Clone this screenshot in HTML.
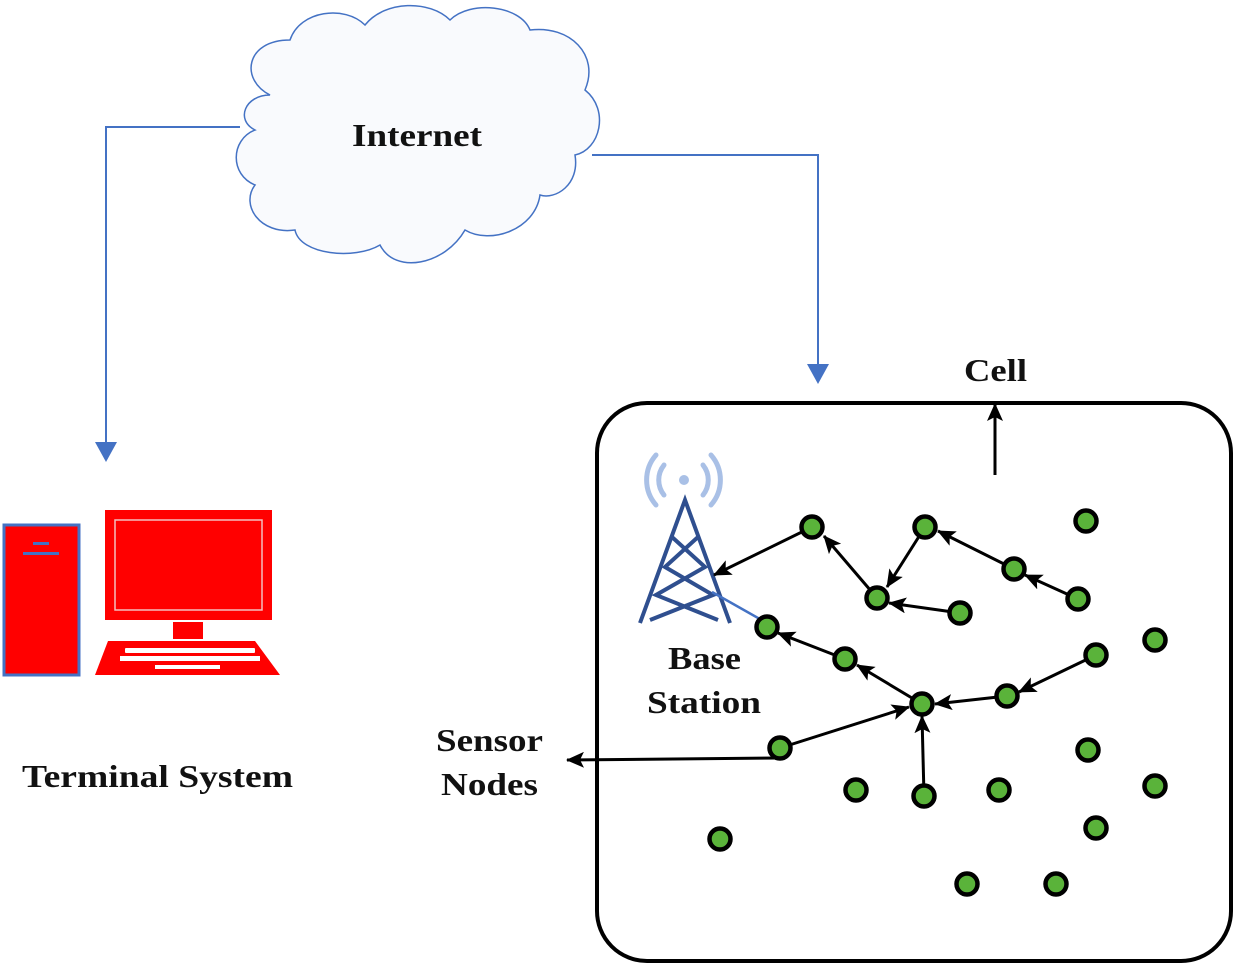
<!DOCTYPE html>
<html><head><style>body{margin:0;background:#fff}svg{display:block}text{font-family:"Liberation Serif",serif;font-weight:bold;fill:#111}</style></head>
<body>
<svg width="1236" height="965" viewBox="0 0 1236 965" xmlns="http://www.w3.org/2000/svg">
<defs>
<marker id="ab" markerWidth="20" markerHeight="22" refX="18" refY="11" orient="auto" markerUnits="userSpaceOnUse" viewBox="0 0 20 22"><path d="M0,0 L20,11 L0,22 z" fill="#4472c4"/></marker>
<marker id="ak" markerWidth="18" markerHeight="16" refX="17" refY="8" orient="auto" markerUnits="userSpaceOnUse" viewBox="0 0 18 16"><path d="M0,0 L18,8 L0,16 L4,8 z" fill="#000"/></marker>
</defs>
<!-- cloud -->
<path d="M270,95 C240,80 245,40 290,40 C300,10 345,5 365,25 C385,0 430,0 450,20 C470,0 520,5 530,30 C570,25 600,55 585,90 C610,110 600,150 575,155 C580,185 555,200 540,195 C535,230 490,245 465,230 C445,265 395,275 380,245 C355,260 300,255 295,230 C260,235 240,205 255,185 C230,175 230,140 255,130 C235,120 245,95 270,95 Z" fill="#f9fafd" stroke="#4472c4" stroke-width="1.5"/>
<text x="352" y="146" font-size="32" textLength="130" lengthAdjust="spacingAndGlyphs">Internet</text>
<path d="M240,127 H106 V460" fill="none" stroke="#4472c4" stroke-width="2" marker-end="url(#ab)"/>
<path d="M592,155 H818 V382" fill="none" stroke="#4472c4" stroke-width="2" marker-end="url(#ab)"/>
<!-- computer -->
<rect x="4" y="525" width="75" height="150" fill="#f00" stroke="#4472c4" stroke-width="3"/>
<rect x="33" y="542" width="16" height="3" fill="#4472c4"/><rect x="23" y="552" width="36" height="3" fill="#4472c4"/>
<rect x="105" y="510" width="167" height="110" fill="#f00"/>
<rect x="115" y="520" width="147" height="90" fill="none" stroke="#f3c0c0" stroke-width="1.5"/>
<rect x="173" y="622" width="30" height="17" fill="#f00"/>
<path d="M108,641 L255,641 L280,675 L95,675 Z" fill="#f00"/>
<g fill="#fff"><rect x="125" y="648" width="130" height="5" rx="1"/><rect x="120" y="656" width="140" height="5"/><rect x="155" y="665" width="65" height="4"/></g>
<text x="22" y="787" font-size="32" textLength="271" lengthAdjust="spacingAndGlyphs">Terminal System</text>
<!-- cell box -->
<rect x="597" y="403" width="634" height="558" rx="50" fill="none" stroke="#000" stroke-width="4"/>
<text x="964" y="381" font-size="32" textLength="63" lengthAdjust="spacingAndGlyphs">Cell</text>
<line x1="995" y1="475" x2="995" y2="404" stroke="#000" stroke-width="3" marker-end="url(#ak)"/>
<!-- tower -->
<g fill="none" stroke="#a9c0e6" stroke-width="5" stroke-linecap="round">
<path d="M664,465 A24,24 0 0 0 664,495"/><path d="M703,465 A24,24 0 0 1 703,495"/>
<path d="M656,455 A38,38 0 0 0 656,505"/><path d="M711,455 A38,38 0 0 1 711,505"/>
</g>
<circle cx="684" cy="480" r="5" fill="#a9c0e6"/>
<g fill="none" stroke="#2f4f8f" stroke-width="4">
<path d="M640,623 L685,500 L730,623"/>
<path d="M672,537 L705,567 L656,595 L718,620 M698,537 L665,567 L713,595 L650,620"/>
</g>
<line x1="712" y1="592" x2="765" y2="622" stroke="#4472c4" stroke-width="2.5"/>
<text x="668" y="669" font-size="32" textLength="73" lengthAdjust="spacingAndGlyphs">Base</text>
<text x="647" y="713" font-size="32" textLength="114" lengthAdjust="spacingAndGlyphs">Station</text>
<text x="436" y="751" font-size="32" textLength="107" lengthAdjust="spacingAndGlyphs">Sensor</text>
<text x="441" y="795" font-size="32" textLength="97" lengthAdjust="spacingAndGlyphs">Nodes</text>
<!-- arrows -->
<g stroke="#000" stroke-width="3" marker-end="url(#ak)">
<line x1="812" y1="527" x2="714" y2="575"/>
<line x1="877" y1="598" x2="824" y2="536"/>
<line x1="925" y1="527" x2="887" y2="587"/>
<line x1="1014" y1="569" x2="938" y2="531"/>
<line x1="1078" y1="599" x2="1025" y2="575"/>
<line x1="960" y1="613" x2="889" y2="603"/>
<line x1="845" y1="659" x2="778" y2="633"/>
<line x1="922" y1="704" x2="857" y2="665"/>
<line x1="1007" y1="696" x2="935" y2="704"/>
<line x1="1096" y1="655" x2="1019" y2="692"/>
<line x1="924" y1="796" x2="922" y2="716"/>
<line x1="780" y1="748" x2="909" y2="707"/>
<line x1="780" y1="758" x2="567" y2="760"/>
</g>
<g fill="#5ab33a" stroke="#000" stroke-width="4.5">
<circle cx="812" cy="527" r="10.5"/><circle cx="925" cy="527" r="10.5"/><circle cx="1086" cy="521" r="10.5"/><circle cx="1014" cy="569" r="10.5"/><circle cx="1078" cy="599" r="10.5"/><circle cx="877" cy="598" r="10.5"/><circle cx="960" cy="613" r="10.5"/><circle cx="767" cy="627" r="10.5"/><circle cx="845" cy="659" r="10.5"/><circle cx="1096" cy="655" r="10.5"/><circle cx="1155" cy="640" r="10.5"/><circle cx="1007" cy="696" r="10.5"/><circle cx="922" cy="704" r="10.5"/><circle cx="780" cy="748" r="10.5"/><circle cx="1088" cy="750" r="10.5"/><circle cx="856" cy="790" r="10.5"/><circle cx="924" cy="796" r="10.5"/><circle cx="999" cy="790" r="10.5"/><circle cx="1155" cy="786" r="10.5"/><circle cx="1096" cy="828" r="10.5"/><circle cx="720" cy="839" r="10.5"/><circle cx="967" cy="884" r="10.5"/><circle cx="1056" cy="884" r="10.5"/>
</g>
</svg>
</body></html>
